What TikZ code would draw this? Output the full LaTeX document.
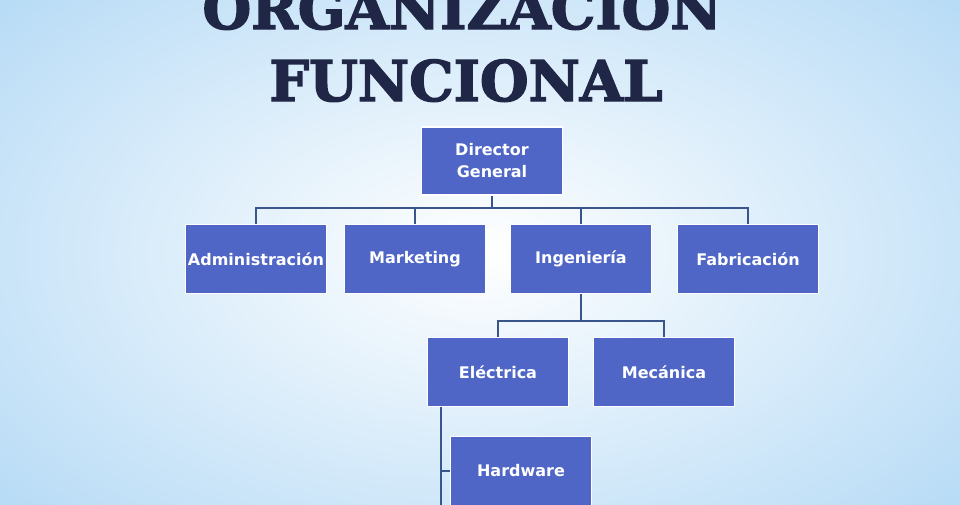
\documentclass[tikz,border=0pt]{standalone}
\usepackage{fontspec}
\setmainfont{DejaVu Sans}
\newfontfamily\titrefont{DejaVu Serif}[BoldFeatures={FakeBold=2.5}]
\usepackage{tikz}
\definecolor{BoiteBleu}{RGB}{79,102,198}
\definecolor{LienBleu}{RGB}{58,84,140}
\definecolor{TitreBleu}{RGB}{31,38,70}
\definecolor{FondBleu}{RGB}{185,220,246}

\begin{document}
\begin{tikzpicture}[x=1pt, y=-1pt]

      % \tikzstyle{Titre}=[text=TitreBleu];
      \tikzstyle{Boite}=[rectangle, draw=white, line width=1.2pt, fill=BoiteBleu,
        text=white, minimum width=141pt, minimum height=69pt, inner sep=2pt,
        font=\bfseries\fontsize{16}{22}\selectfont, align=center];
      \tikzstyle{Lien}=[line width=2pt, draw=LienBleu];

        \useasboundingbox (0,0) rectangle (960,504);
        \clip (0,0) rectangle (960,504);
        \shade[inner color=white, outer color=FondBleu] (-150,-120) rectangle (1110,624);

        % titre
        \node[anchor=base, text=TitreBleu](Titre1) at (462,29) {\titrefont\bfseries\fontsize{56}{60}\selectfont ORGANIZACIÓN};
        \node[anchor=base, text=TitreBleu](Titre2) at (466,101) {\titrefont\bfseries\fontsize{56}{60}\selectfont FUNCIONAL};

        \node[Boite, minimum height=68pt](Dir) at (492, 161) {Director\\General};

        \node[Boite](Adm) at (256, 259) {Administración};
        \node[Boite](Mkt) at (415, 259) {Marketing};
        \node[Boite](Ing) at (581, 259) {Ingeniería};
        \node[Boite](Fab) at (748, 259) {Fabricación};

        \node[Boite](Elec) at (498, 372) {Eléctrica};
        \node[Boite](Mec) at (664, 372) {Mecánica};

        \node[Boite](Hard) at (521, 471) {Hardware};

        \coordinate (BusDir) at (492, 208);
        \coordinate (BusIng) at (581, 321);
        \coordinate (BasElec) at (441, 510);

        \draw[Lien] (Dir) -- (BusDir);
        \draw[Lien] (BusDir) -| (Adm.north);
        \draw[Lien] (BusDir) -| (Mkt.north);
        \draw[Lien] (BusDir) -| (Ing.north);
        \draw[Lien] (BusDir) -| (Fab.north);

        \draw[Lien] (Ing) -- (BusIng);
        \draw[Lien] (BusIng) -| (Elec.north);
        \draw[Lien] (BusIng) -| (Mec.north);

        \draw[Lien] (Elec.south -| BasElec) -- (BasElec);
        \draw[Lien] (Hard.west) -- (Hard.west -| BasElec);

    \end{tikzpicture}
\end{document}
